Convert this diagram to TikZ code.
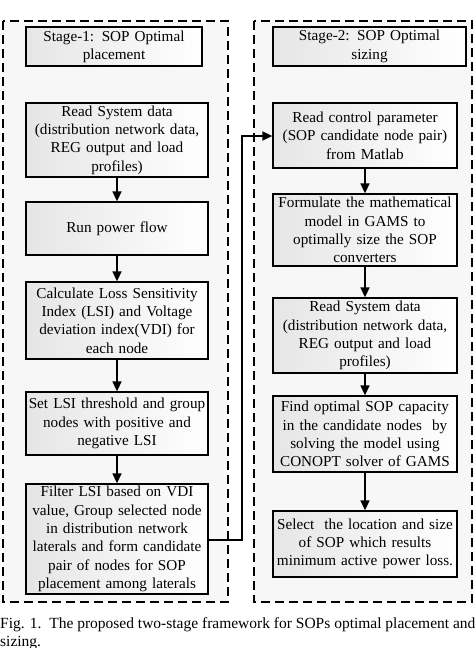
\documentclass[tikz,border=0pt]{standalone}
\usepackage{fontspec}
\setmainfont{Liberation Serif}
\usetikzlibrary{arrows.meta,positioning}
\begin{document}
\begin{tikzpicture}[x=1pt,y=-1pt,
  frame/.style={draw=black,line width=1.2pt,dash pattern=on 9pt off 5pt,fill=gray!6},
  stepbox/.style={draw=black,line width=1.3pt,left color=gray!20,right color=white,
    align=center,inner sep=1pt,font=\fontsize{15.2}{18.3}\selectfont},
  flow/.style={line width=1.5pt,-{Triangle[length=10pt,width=9pt]}}]
\useasboundingbox (0,0) rectangle (474,648);
\fill[white] (0,0) rectangle (474,648);
% frames
\draw[frame] (3,21) rectangle (228,602);
\draw[frame] (254,21) rectangle (472,602);
% left column
\node[stepbox,minimum width=176pt,minimum height=39pt,text width=174pt] (t1) at (114,46.5) {Stage-1: SOP Optimal\\placement};
\node[stepbox,minimum width=182pt,minimum height=74pt,text width=180pt] (r1) at (117,140) {Read System data\\(distribution network data,\\REG output and load\\profiles)};
\node[stepbox,minimum width=182pt,minimum height=53pt,text width=180pt] (pf) at (117,228.5) {Run power flow};
\node[stepbox,minimum width=182pt,minimum height=77pt,text width=180pt] (cl) at (117,320.5) {Calculate Loss Sensitivity\\Index (LSI) and Voltage\\deviation index(VDI) for\\each node};
\node[stepbox,minimum width=182pt,minimum height=63pt,text width=180pt] (st) at (117,423.5) {Set LSI threshold and group\\nodes with positive and\\negative LSI};
\node[stepbox,minimum width=182pt,minimum height=110pt,text width=180pt] (fl) at (117,539) {Filter LSI based on VDI\\value, Group selected node\\in distribution network\\laterals and form candidate\\pair of nodes for SOP\\placement among laterals};
% right column
\node[stepbox,minimum width=193pt,minimum height=39pt,text width=191pt] (t2) at (369.5,46.5) {Stage-2: SOP Optimal\\sizing};
\node[stepbox,minimum width=184pt,minimum height=65pt,text width=182pt] (rc) at (365,135.5) {Read control parameter\\(SOP candidate node pair)\\from Matlab};
\node[stepbox,minimum width=184pt,minimum height=72pt,text width=182pt] (fm) at (365,230) {Formulate the mathematical\\model in GAMS to\\optimally size the SOP\\converters};
\node[stepbox,minimum width=184pt,minimum height=75pt,text width=182pt] (r2) at (365,335.5) {Read System data\\(distribution network data,\\REG output and load\\profiles)};
\node[stepbox,minimum width=184pt,minimum height=76pt,text width=182pt] (fo) at (365,434) {Find optimal SOP capacity\\in the candidate nodes\ \ by\\solving the model using\\CONOPT solver of GAMS};
\node[stepbox,minimum width=184pt,minimum height=66pt,text width=182pt] (se) at (365,544) {Select\ \ the location and size\\of SOP which results\\minimum active power loss.};
% arrows
\draw[flow] (r1) -- (pf);
\draw[flow] (pf) -- (cl);
\draw[flow] (cl) -- (st);
\draw[flow] (st) -- (fl);
\draw[flow] (rc) -- (fm);
\draw[flow] (fm) -- (r2);
\draw[flow] (r2) -- (fo);
\draw[flow] (fo) -- (se);
\coordinate (c1) at (242,540);
\coordinate (c2) at (242,136);
\draw[flow] (fl.east |- c1) -- (c1) -- (c2) -- (rc.west |- c2);
% caption
\node[anchor=base west,inner sep=0pt,font=\fontsize{15.5}{18}\selectfont] (cap1) at (0,628) {Fig. 1.\ \ The proposed two-stage framework for SOPs optimal placement and};
\node[anchor=base west,inner sep=0pt,font=\fontsize{15.5}{18}\selectfont] (cap2) at (0,646) {sizing.};
\end{tikzpicture}
\end{document}
